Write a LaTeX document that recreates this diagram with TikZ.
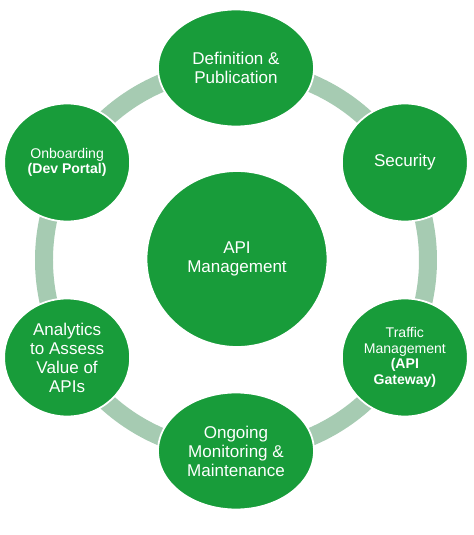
\documentclass[tikz,border=0pt]{standalone}
\usepackage{fontspec}
\setmainfont{Liberation Sans}
\usetikzlibrary{shapes.geometric}
\definecolor{apigreen}{RGB}{24,156,58}
\definecolor{ringgreen}{RGB}{166,203,178}

\begin{document}
\begin{tikzpicture}[x=0.02cm, y=0.02cm,
    stage/.style={ellipse, fill=apigreen, draw=white, line width=1pt, text=white,
        align=center, inner sep=0pt, font=\fontsize{9.7}{10.8}\selectfont},
    sidestage/.style={stage, minimum width=2.52cm, minimum height=2.36cm},
    widestage/.style={stage, minimum width=3.12cm, minimum height=2.34cm},
    smalltext/.style={font=\fontsize{8}{8.8}\selectfont}]
    \useasboundingbox (-236,-275) rectangle (238,260);
    % Ring behind the stages
    \draw[ringgreen, line width=0.36cm] (0,0) circle (192);
    % Centre
    \node[stage, minimum width=3.62cm, minimum height=3.52cm] (apim) at (1,1) {API\\Management};
    % Stages round the ring
    \node[widestage] (defn) at (90:192) {Definition \&\\Publication};
    \node[sidestage] (secu) at (30:195) {Security};
    \node[sidestage, smalltext] (traf) at (-30:195) {Traffic\\Management\\\textbf{(API}\\\textbf{Gateway)}};
    \node[widestage] (moni) at (270:191) {Ongoing\\Monitoring \&\\Maintenance};
    \node[sidestage] (anal) at (210:195) {Analytics\\to Assess\\Value of\\APIs};
    \node[sidestage, smalltext] (onbd) at (150:195) {Onboarding\\\textbf{(Dev Portal)}};
\end{tikzpicture}
\end{document}
